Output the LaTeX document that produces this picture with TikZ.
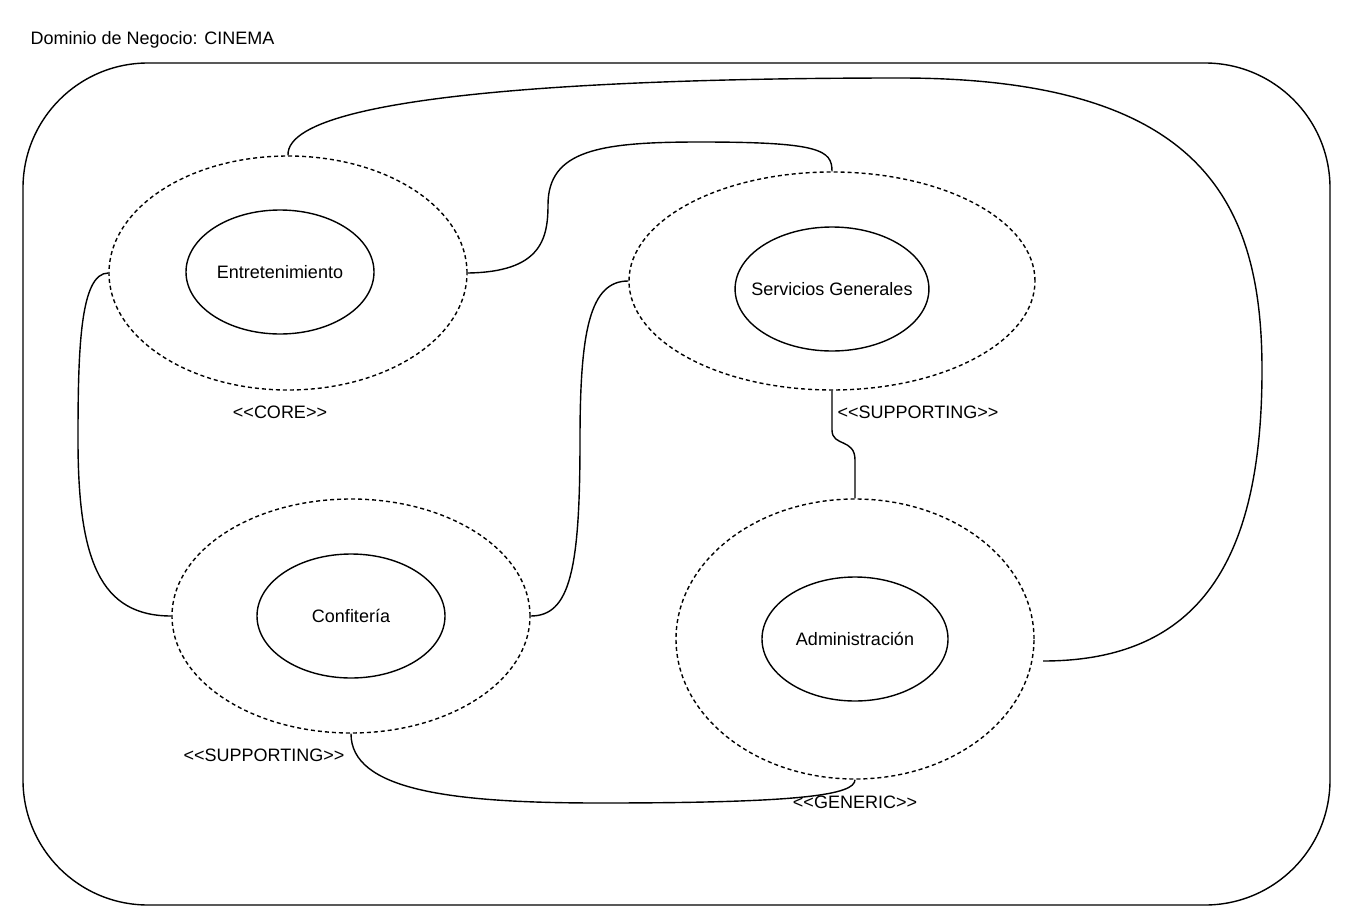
\documentclass[tikz,border=0pt]{standalone}
\usepackage{fontspec}
\setmainfont{Liberation Sans}
\usetikzlibrary{shapes.geometric}
\begin{document}
\begin{tikzpicture}[x=1pt,y=-1pt,line width=1.4pt,
  outer/.style={draw,ellipse,dash pattern=on 4pt off 3pt,inner sep=0pt},
  inner/.style={draw,ellipse,inner sep=-12pt,font=\fontsize{18}{21}\selectfont},
  lbl/.style={font=\fontsize{18}{21}\selectfont,inner sep=0pt}]
\useasboundingbox (0,0) rectangle (1347,921);
\draw[rounded corners=125pt] (23,63) rectangle (1330,905);
\node[lbl,anchor=west] (title) at (30,40) {Dominio de Negocio: CINEMA};
\node[outer,minimum width=358pt,minimum height=234pt] (E) at (288,273) {};
\node[inner,minimum width=188pt,minimum height=124pt] (Ei) at (280,272) {Entretenimiento};
\node[outer,minimum width=406pt,minimum height=218pt] (S) at (832,281) {};
\node[inner,minimum width=186pt,minimum height=124pt] (Si) at (832,289) {Servicios Generales};
\node[outer,minimum width=358pt,minimum height=234pt] (C) at (351,616) {};
\node[inner,minimum width=188pt,minimum height=124pt] (Ci) at (351,616) {Confitería};
\node[outer,minimum width=358pt,minimum height=280pt] (A) at (855,639) {};
\node[inner,minimum width=186pt,minimum height=124pt] (Ai) at (855,639) {Administración};
\node[lbl] (l1) at (280,412) {<{}<CORE>{}>};
\node[lbl] (l2) at (918,412) {<{}<SUPPORTING>{}>};
\node[lbl] (l3) at (264,755) {<{}<SUPPORTING>{}>};
\node[lbl] (l4) at (855,802) {<{}<GENERIC>{}>};
\coordinate (Ae) at (1043,661);
\draw (E.north) .. controls (285,85) and (700,78) .. (900,78) .. controls (1200,78) and (1262,200) .. (1262,370) .. controls (1262,560) and (1200,661) .. (Ae);
\draw (E.east) .. controls (540,272) and (548,240) .. (548,205) .. controls (548,150) and (600,142) .. (700,142) .. controls (820,142) and (832,150) .. (S.north);
\draw (E.west) .. controls (80,273) and (78,350) .. (78,440) .. controls (78,560) and (100,616) .. (C.west);
\draw (S.west) .. controls (590,281) and (580,330) .. (580,440) .. controls (580,570) and (570,616) .. (C.east);
\draw (S.south) -- (832,430) .. controls (832,447) and (855,438) .. (855,460) -- (A.north);
\draw (C.south) .. controls (351,790) and (450,803) .. (600,803) .. controls (800,803) and (855,795) .. (A.south);
\end{tikzpicture}
\end{document}
